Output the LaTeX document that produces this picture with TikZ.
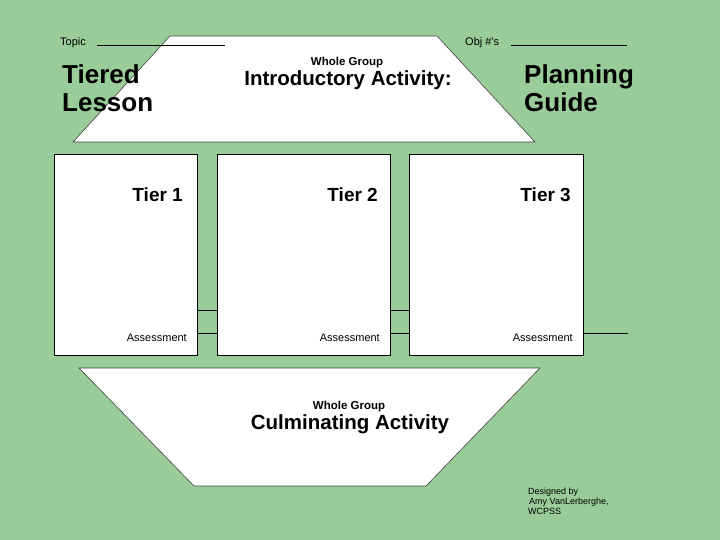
\documentclass[tikz,border=0pt]{standalone}
\usepackage{fontspec}
\setmainfont{Liberation Sans}
\definecolor{bg}{RGB}{153,204,153}
\begin{document}
\begin{tikzpicture}[x=1pt,y=-1pt,
  shapeframe/.style={draw=black!75,line width=0.6pt,fill=white},
  tierbox/.style={draw=black,line width=0.6pt,fill=white},
  rule/.style={draw=black,line width=0.8pt},
  lbl/.style={inner sep=0pt,text=black},
  big/.style={lbl,font=\fontsize{26}{28}\selectfont\bfseries},
  mid/.style={lbl,font=\fontsize{20.5}{22}\selectfont\bfseries},
  tiertxt/.style={lbl,font=\fontsize{19}{20}\selectfont\bfseries},
  small/.style={lbl,font=\fontsize{11}{12}\selectfont},
  grp/.style={lbl,font=\fontsize{11.5}{12}\selectfont\bfseries},
  tiny/.style={lbl,font=\fontsize{9}{10}\selectfont}]
\useasboundingbox (0,0) rectangle (720,540);
\fill[bg] (0,0) rectangle (720,540);
% top trapezoid
\draw[shapeframe] (170,36) -- (437,36) -- (535,142) -- (73,142) -- cycle;
% tier boxes
\node[tierbox,minimum width=143pt,minimum height=201pt,anchor=north west] (b1) at (54,154) {};
\node[tierbox,minimum width=173pt,minimum height=201pt,anchor=north west] (b2) at (217,154) {};
\node[tierbox,minimum width=174pt,minimum height=201pt,anchor=north west] (b3) at (409,154) {};
\coordinate (e3) at (628,333);
\draw[rule,line width=0.6pt] (b1.east |- 0,310) -- (b2.west |- 0,310);
\draw[rule,line width=0.6pt] (b1.east |- 0,333) -- (b2.west |- 0,333);
\draw[rule,line width=0.6pt] (b2.east |- 0,310) -- (b3.west |- 0,310);
\draw[rule,line width=0.6pt] (b2.east |- 0,333) -- (b3.west |- 0,333);
\draw[rule,line width=0.6pt] (b3.east |- e3) -- (e3);
% bottom trapezoid
\draw[shapeframe] (79,368) -- (540,368) -- (426,486) -- (194,486) -- cycle;
% header texts
\node[small,anchor=base west] (topic) at (60,46) {Topic};
\coordinate (tl) at (225,45);
\draw[rule] (97,45) -- (tl);
\node[small,anchor=base west] (obj) at (465,46) {Obj \#'s};
\coordinate (ol) at (627,45);
\draw[rule] (511,45) -- (ol);
\node[big,anchor=base west] (tiered) at (62,84) {Tiered};
\node[big,anchor=base west] (lesson) at (62,112) {Lesson};
\node[big,anchor=base west] (plan) at (524,84) {Planning};
\node[big,anchor=base west] (guide) at (524,112) {Guide};
\node[grp,anchor=base] (wg1) at (347,66) {Whole Group};
\node[mid,anchor=base] (intro) at (348,86) {Introductory Activity:};
% tiers
\node[tiertxt,anchor=base east] (t1) at (183,202) {Tier 1};
\node[tiertxt,anchor=base east] (t2) at (378,202) {Tier 2};
\node[tiertxt,anchor=base east] (t3) at (571,202) {Tier 3};
\node[small,anchor=base east] (a1) at (187,341) {Assessment};
\node[small,anchor=base east] (a2) at (380,341) {Assessment};
\node[small,anchor=base east] (a3) at (573,341) {Assessment};
% bottom
\node[grp,anchor=base] (wg2) at (349,409) {Whole Group};
\node[mid,anchor=base] (culm) at (350,429) {Culminating Activity};
\node[tiny,anchor=base west] (d1) at (528,494) {Designed by};
\node[tiny,anchor=base west] (d2) at (529,504) {Amy VanLerberghe,};
\node[tiny,anchor=base west] (d3) at (528,514) {WCPSS};
\end{tikzpicture}
\end{document}
